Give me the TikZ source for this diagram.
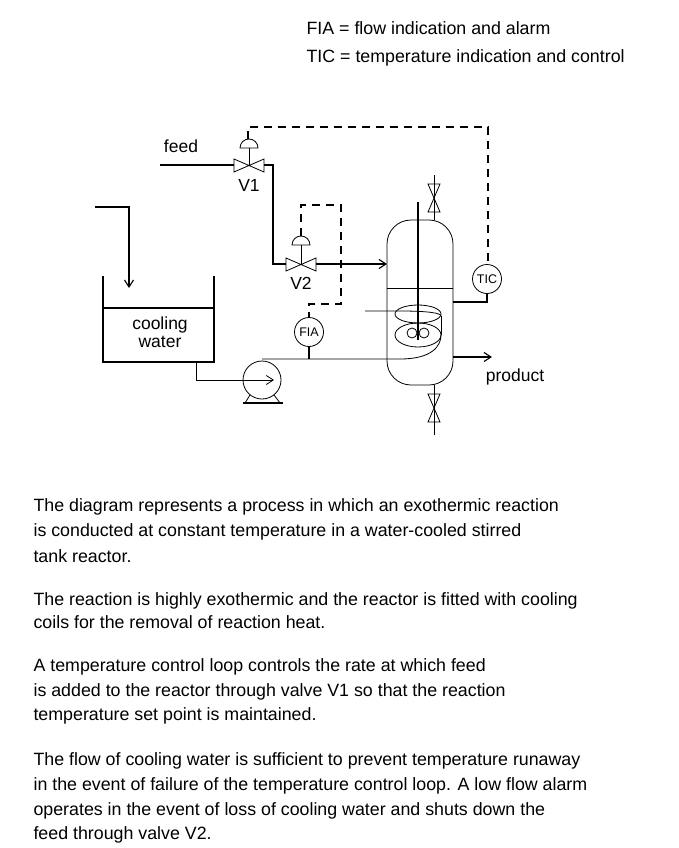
\documentclass[tikz,border=0pt]{standalone}
\usepackage{fontspec}
\setmainfont{Liberation Sans}
\usetikzlibrary{arrows.meta}
\begin{document}
\begin{tikzpicture}[x=1pt,y=-1pt,line width=1.1pt,
  txt/.style={anchor=base west,inner sep=0pt,font=\fontsize{17.8}{20}\selectfont},
  lbl/.style={inner sep=0pt,font=\fontsize{17.5}{20}\selectfont},
  inst/.style={circle,draw,minimum size=29pt,inner sep=0pt,font=\fontsize{12.5}{13}\selectfont,line width=0.8pt},
  sig/.style={dash pattern=on 8pt off 6pt,line width=1.1pt},
  arr/.style={-{Straight Barb[length=7pt,width=9pt]}},
  thin/.style={line width=0.8pt}]
\useasboundingbox (0,0) rectangle (678,848);
% legend
\node[txt] (l1) at (306,35) {FIA = flow indication and alarm};
\node[txt] (l2) at (306,63) {TIC = temperature indication and control};
% paragraphs
\node[txt] (p1) at (33,511) {The diagram represents a process in which an exothermic reaction};
\node[txt] (p2) at (33,536) {is conducted at constant temperature in a water-cooled stirred};
\node[txt] (p3) at (33,562) {tank reactor.};
\node[txt] (p4) at (33,605) {The reaction is highly exothermic and the reactor is fitted with cooling};
\node[txt] (p5) at (33,628) {coils for the removal of reaction heat.};
\node[txt] (p6) at (33,671) {A temperature control loop controls the rate at which feed};
\node[txt] (p7) at (33,696) {is added to the reactor through valve V1 so that the reaction};
\node[txt] (p8) at (33,720) {temperature set point is maintained.};
\node[txt] (p9) at (33,765) {The flow of cooling water is sufficient to prevent temperature runaway};
\node[txt] (p10) at (33,790) {in the event of failure of the temperature control loop. A low flow alarm};
\node[txt] (p11) at (33,815) {operates in the event of loss of cooling water and shuts down the};
\node[txt] (p12) at (33,839) {feed through valve V2.};
% labels
\node[lbl] (feed) at (181,146) {feed};
\node[lbl] (v1l) at (249,185) {V1};
\node[lbl] (v2l) at (301,283) {V2};
\node[lbl] (prod) at (515,377) {product};
\node[lbl,align=center,font=\fontsize{17.5}{18}\selectfont] (cw) at (160,332) {cooling\\water};
% valves
\draw[thin] (234,159) -- (264,172) -- (264,159) -- (234,172) -- cycle;
\draw[thin] (286,258) -- (316,271) -- (316,258) -- (286,271) -- cycle;
\draw[thin] (249,165.5) -- (249,148); \draw[thin] (240,148) -- (258,148) arc (0:-180:9) -- cycle;
\draw[thin] (301,264.5) -- (301,245); \draw[thin] (292,245) -- (310,245) arc (0:-180:9) -- cycle;
% feed line
\draw (160,165) -- (234,165);
\draw (264,165) -- (273,165) -- (273,264) -- (286,264);
\draw[arr] (316,264) -- (387,264);
% dashed signals
\draw[sig] (248,139) -- (248,127) -- (488,127) -- (488,265);
\node[inst] (tic) at (487,279) {TIC};
\node[inst] (fia) at (309,332) {FIA};
\draw (tic.south) -- (487,302) -- (453,302);
\draw[sig] (301,236) -- (301,205) -- (341,205) -- (341,304) -- (309,304) -- (fia.north);
\draw (fia.south) -- (309,359);
% reactor
\draw[thin,rounded corners=24pt] (387,220) rectangle (453,385);
\draw[thin] (387,288) -- (453,288);
\draw[thin] (434,220) -- (434,175);
\draw[thin] (428,184) -- (440,212) -- (428,212) -- (440,184) -- cycle;
\draw[thin] (434,385) -- (434,435);
\draw[thin] (428,394) -- (440,422) -- (428,422) -- (440,394) -- cycle;
\draw (418,202) -- (418,340);
% coil
\draw[thin] (418,314) ellipse (23pt and 9pt);
\draw[thin] (418,335) ellipse (23pt and 12pt);
\draw[thin] (412,333) circle (5pt); \draw[thin] (424,333) circle (5pt);
\draw[thin] (365,311) -- (400,311) .. controls (428,311) and (441,313) .. (441,316);
\draw[thin] (262,359) -- (400,359) .. controls (432,359) and (441,346) .. (441,335);
\draw[thin] (441,316) -- (441,335);
% product
\draw[arr] (453,357) -- (492,357);
% tank
\draw (103,276) -- (103,362) -- (214,362) -- (214,276);
\draw (103,308) -- (214,308);
\draw[arr] (95,207) -- (129,207) -- (129,288);
% pump
\draw[thin] (262,380) circle (19pt);
\draw[thin] (250,395) -- (245,403); \draw[thin] (274,395) -- (280,403);
\draw (243,403) -- (283,403);
\draw[thin,arr] (196,363) -- (196,380) -- (274,380);
\end{tikzpicture}
\end{document}
